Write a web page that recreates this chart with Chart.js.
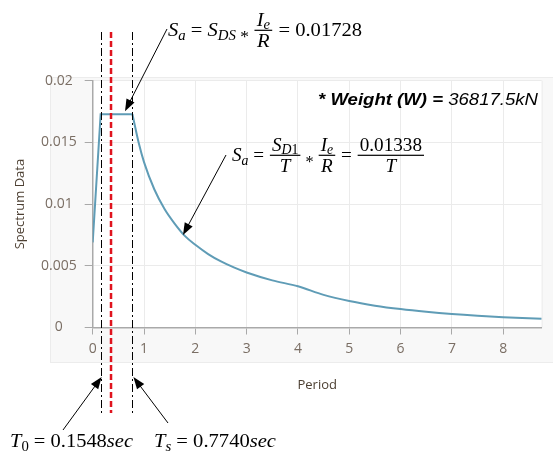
<!DOCTYPE html>
<html>
<head>
<meta charset="utf-8">
<script src="https://cdn.jsdelivr.net/npm/chart.js@4"></script>
<style>
  body { margin: 0; background: #fff; }
  #wrap { width: 553px; height: 472px; position: relative; }
</style>
</head>
<body>
<div id="wrap"><canvas id="spectrumChart"></canvas></div>
<script>
// periods (sec) and spectrum values
var periods  = [0, 0.1548, 0.774, 0.9, 1.0, 1.2, 1.4, 1.6, 1.8, 2.0, 2.25, 2.5, 2.75, 3.0, 3.5, 4.0, 4.5, 5.0, 5.5, 6.0, 6.5, 7.0, 7.5, 8.0, 8.75];
var spectrum = [0.0069, 0.01728, 0.01728, 0.0149, 0.0134, 0.0112, 0.0096, 0.0084, 0.0074, 0.0067, 0.00595, 0.00535, 0.00487, 0.00446, 0.00382, 0.00334, 0.00264, 0.00214, 0.00177, 0.00149, 0.00127, 0.00109, 0.00095, 0.00084, 0.0007];
var markerPeriods = [0.1548, 0.774];   // T0, Ts
var redPeriod = 0.357;
var yTicks = [0, 0.005, 0.01, 0.015, 0.02];

var riseData = [], decayData = [];
for (var i = 0; i < periods.length; i++) {
    if (i <= 2) riseData.push({x: periods[i], y: spectrum[i]});
    if (i >= 2) decayData.push({x: periods[i], y: spectrum[i]});
}

var tickColor = '#7a6e64';
var titleColor = '#4d4033';
var axisGrey = '#a9a9a9';
var mathFont = '"Liberation Serif"';

function fnt(size, it) { return (it ? 'italic ' : '') + size + 'px ' + mathFont; }
function partSize(p, size) { return p.sub ? size * 0.72 : (p.star ? size * 0.85 : size); }
function partShift(p, size) { return p.sub ? size * 0.2 : (p.star ? size * 0.3 : 0); }

function runWidth(ctx, parts, size) {
    var w = 0;
    parts.forEach(function (p) {
        if (p.num) { w += Math.max(runWidth(ctx, p.num, size), runWidth(ctx, p.den, size)) + 6; return; }
        ctx.font = fnt(partSize(p, size), p.it);
        w += ctx.measureText(p.t).width;
    });
    return w;
}

function drawRun(ctx, parts, x, y, size) {
    parts.forEach(function (p) {
        if (p.num) {
            var wn = runWidth(ctx, p.num, size), wd = runWidth(ctx, p.den, size);
            var w = Math.max(wn, wd) + 6;
            var bar = y - size * 0.3;
            ctx.fillRect(x + 1, bar - 0.6, w - 2, 1.2);
            drawRun(ctx, p.num, x + (w - wn) / 2, bar - size * 0.25, size);
            drawRun(ctx, p.den, x + (w - wd) / 2, bar + size * 0.9, size);
            x += w;
            return;
        }
        ctx.font = fnt(partSize(p, size), p.it);
        ctx.fillText(p.t, x, y + partShift(p, size));
        x += ctx.measureText(p.t).width;
    });
}

// stretch a formula to the width it has in the picture
function drawFit(ctx, parts, x, y, width, size) {
    var w = runWidth(ctx, parts, size);
    ctx.save();
    ctx.translate(x, y);
    ctx.scale(width / w, 1);
    drawRun(ctx, parts, 0, 0, size);
    ctx.restore();
}

function arrow(ctx, x1, y1, x2, y2) {
    var a = Math.atan2(y2 - y1, x2 - x1), len = 12, half = 4.5;
    ctx.beginPath();
    ctx.moveTo(x1, y1);
    ctx.lineTo(x2 - Math.cos(a) * len * 0.8, y2 - Math.sin(a) * len * 0.8);
    ctx.stroke();
    ctx.beginPath();
    ctx.moveTo(x2, y2);
    ctx.lineTo(x2 - Math.cos(a) * len - Math.sin(a) * half, y2 - Math.sin(a) * len + Math.cos(a) * half);
    ctx.lineTo(x2 - Math.cos(a) * len + Math.sin(a) * half, y2 - Math.sin(a) * len - Math.cos(a) * half);
    ctx.closePath();
    ctx.fill();
}

var S = {t: 'S', it: 1};
var star = {t: ' * ', star: 1};
var formula1 = [S, {t: 'a', it: 1, sub: 1}, {t: ' = '}, S, {t: 'DS', it: 1, sub: 1}, star,
    {num: [{t: 'I', it: 1}, {t: 'e', it: 1, sub: 1}], den: [{t: 'R', it: 1}]}, {t: ' = 0.01728'}];
var formula2 = [S, {t: 'a', it: 1, sub: 1}, {t: ' = '},
    {num: [S, {t: 'D', it: 1, sub: 1}, {t: '1', sub: 1}], den: [{t: 'T', it: 1}]}, star,
    {num: [{t: 'I', it: 1}, {t: 'e', it: 1, sub: 1}], den: [{t: 'R', it: 1}]}, {t: ' = '},
    {num: [{t: '0.01338'}], den: [{t: 'T', it: 1}]}];
var labelT0 = [{t: 'T', it: 1}, {t: '0', sub: 1}, {t: ' = 0.1548'}, {t: 'sec', it: 1}];
var labelTs = [{t: 'T', it: 1}, {t: 's', it: 1, sub: 1}, {t: ' = 0.7740'}, {t: 'sec', it: 1}];

var backdrop = {
    id: 'backdrop',
    beforeDraw: function (chart) {
        var ctx = chart.ctx, a = chart.chartArea;
        ctx.save();
        ctx.fillStyle = '#f8f8f8';
        ctx.fillRect(50, 77, 503, 286);
        ctx.strokeStyle = '#ececec';
        ctx.strokeRect(50.5, 77.5, 510, 285);
        ctx.fillStyle = '#ffffff';
        ctx.fillRect(a.left, a.top, a.right - a.left, a.bottom - a.top);
        ctx.strokeStyle = '#ececec';
        ctx.beginPath();
        ctx.moveTo(a.right + 0.5, a.top);
        ctx.lineTo(a.right + 0.5, a.bottom);
        ctx.stroke();
        ctx.restore();
    }
};

var notes = {
    id: 'notes',
    afterDraw: function (chart) {
        var ctx = chart.ctx, xs = chart.scales.x, ys = chart.scales.y;
        ctx.save();
        // T0 / Ts dash-dot lines
        ctx.strokeStyle = '#000';
        ctx.lineWidth = 1;
        ctx.setLineDash([8, 3, 2, 3]);
        markerPeriods.forEach(function (p) {
            var px = Math.round(xs.getPixelForValue(p)) + 0.5;
            ctx.beginPath();
            ctx.moveTo(px, 32);
            ctx.lineTo(px, 413);
            ctx.stroke();
        });
        // red dashed line
        ctx.strokeStyle = '#e0141e';
        ctx.lineWidth = 2.5;
        ctx.setLineDash([6, 3]);
        var rx = xs.getPixelForValue(redPeriod);
        ctx.beginPath();
        ctx.moveTo(rx, 32);
        ctx.lineTo(rx, 413);
        ctx.stroke();
        ctx.setLineDash([]);

        // arrows
        ctx.strokeStyle = '#000';
        ctx.fillStyle = '#000';
        ctx.lineWidth = 1;
        arrow(ctx, 167, 29, xs.getPixelForValue(0.63), ys.getPixelForValue(0.01728) - 3);
        arrow(ctx, 226, 155, xs.getPixelForValue(1.76), ys.getPixelForValue(0.0075));
        arrow(ctx, 63, 430, xs.getPixelForValue(markerPeriods[0]) + 1, 377);
        arrow(ctx, 168, 423, xs.getPixelForValue(markerPeriods[1]) + 1, 377);

        // formulas
        ctx.fillStyle = '#000';
        ctx.textBaseline = 'alphabetic';
        ctx.textAlign = 'left';
        drawFit(ctx, formula1, 168, 36, 194, 19);
        drawFit(ctx, formula2, 232, 161, 193, 19);
        drawFit(ctx, labelT0, 10, 447, 123, 19);
        drawFit(ctx, labelTs, 154, 447, 122, 19);

        // weight note
        ctx.font = 'italic bold 17px "Liberation Sans"';
        var part1 = '* Weight (W) = ';
        var w1 = ctx.measureText(part1).width;
        ctx.font = 'italic 17px "Liberation Sans"';
        var w2 = ctx.measureText('36817.5kN').width;
        ctx.save();
        ctx.translate(318, 105);
        ctx.scale(220 / (w1 + w2), 1);
        ctx.font = 'italic bold 17px "Liberation Sans"';
        ctx.fillText(part1, 0, 0);
        ctx.font = 'italic 17px "Liberation Sans"';
        ctx.fillText('36817.5kN', w1, 0);
        ctx.restore();
        ctx.restore();
    }
};

var ctx = document.getElementById('spectrumChart').getContext('2d');
var chart = new Chart(ctx, {
    type: 'line',
    data: {
        datasets: [{
            label: 'Spectrum Data',
            data: riseData,
            borderColor: '#5f9cb6',
            borderWidth: 2,
            pointRadius: 0,
            tension: 0
        }, {
            label: 'Spectrum Data',
            data: decayData,
            borderColor: '#5f9cb6',
            borderWidth: 2,
            pointRadius: 0,
            cubicInterpolationMode: 'monotone'
        }]
    },
    options: {
        responsive: true,
        maintainAspectRatio: false,
        animation: false,
        layout: { padding: { left: 12.2, top: 80.6, right: 11.3, bottom: 79.2 } },
        plugins: { legend: { display: false }, tooltip: { enabled: false } },
        scales: {
            x: {
                type: 'linear',
                min: 0,
                max: 8.75,
                afterFit: function (s) { s.height = 65.3; },
                ticks: {
                    stepSize: 1,
                    includeBounds: false,
                    padding: 6,
                    color: tickColor,
                    font: { family: 'Open Sans', size: 14 },
                    callback: function (v) { return String(v); }
                },
                grid: { color: '#ebebeb', tickColor: axisGrey, tickLength: 7 },
                border: { color: axisGrey, width: 1.5 },
                title: { display: true, text: 'Period', color: titleColor, padding: 0,
                         font: { family: 'Open Sans', size: 13 } }
            },
            y: {
                min: 0,
                max: 0.02,
                afterFit: function (s) { s.width = 80.5; },
                afterBuildTicks: function (s) { s.ticks = yTicks.map(function (v) { return {value: v}; }); },
                ticks: {
                    crossAlign: 'center',
                    padding: 8,
                    color: tickColor,
                    font: { family: 'Open Sans', size: 14 },
                    callback: function (v) { return String(+v.toFixed(3)); }
                },
                grid: { color: '#ebebeb', tickColor: axisGrey, tickLength: 8 },
                border: { color: axisGrey, width: 1.5 },
                title: { display: true, text: 'Spectrum Data', color: titleColor, padding: 0,
                         font: { family: 'Open Sans', size: 13 } }
            }
        }
    },
    plugins: [backdrop, notes]
});
</script>
</body>
</html>
